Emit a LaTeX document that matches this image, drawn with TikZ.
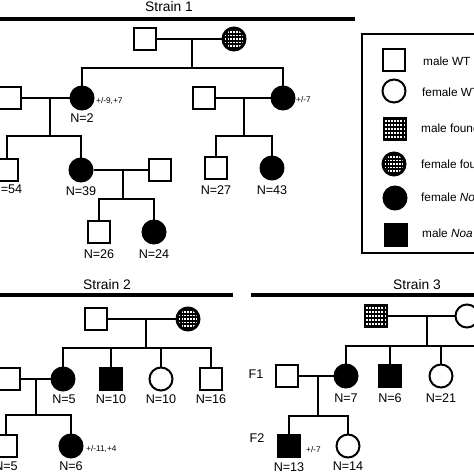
\documentclass[tikz,border=0pt]{standalone}
\usepackage{fontspec}
\setmainfont{Liberation Sans}
\begin{document}
\begin{tikzpicture}[x=1pt,y=-1pt,
  ln/.style={line width=1.9pt},
  bar/.style={line width=3.2pt},
  ind/.style={draw, line width=2pt, fill=white, inner sep=0pt},
  msq/.style={ind, rectangle, minimum size=22.5pt},
  fci/.style={ind, circle, minimum size=23pt},
  aff/.style={fill=black},
  mfound/.style={msq, fill=black, path picture={\begin{scope}[shift={(path picture bounding box.center)}]\foreach \i in {-3,...,3}{\foreach \j in {-2,...,2}{\fill[white] (\i*3.1-0.8,\j*4-0.6) rectangle ++(1.6,1.2);}}\end{scope}}},
  ffound/.style={fci, fill=black, path picture={\begin{scope}[shift={(path picture bounding box.center)}]\clip (0,0) circle (9.5);\foreach \i in {-4,...,4}{\foreach \j in {-3,...,3}{\fill[white] (\i*2.9-0.7,\j*3.5-0.6) rectangle ++(1.4,1.2);}}\end{scope}}},
  nlab/.style={font=\fontsize{12.6}{14}\selectfont, inner sep=0pt},
  small/.style={font=\fontsize{8.3}{10}\selectfont, inner sep=0pt, anchor=west},
  ttl/.style={font=\fontsize{13.8}{16}\selectfont, inner sep=0pt},
  leg/.style={font=\fontsize{11.8}{14}\selectfont, inner sep=0pt, anchor=west},
]
\useasboundingbox (0,0) rectangle (474,474);
\clip (0,0) rectangle (474,474);

% ---------- Strain 1 ----------
\node[ttl] (t1) at (169,7) {Strain 1};
\coordinate (b1a) at (-10,19); \coordinate (b1b) at (355,19);
\draw[bar] (b1a) -- (b1b);

\node[msq] (p1m) at (145,39) {};
\node[ffound] (p1f) at (234,39) {};
\draw[ln] (p1m) -- (p1f);
\coordinate (j1) at (192,39); \coordinate (s1) at (192,68);
\draw[ln] (j1) -- (s1);
\node[fci,aff] (d1) at (82,98) {};
\node[fci,aff] (d2) at (283,98) {};
\draw[ln] (d1) |- (s1) -| (d2);
\node[small] (g1) at (96,101) {+/-9,+7};
\node[nlab] (n2) at (82,118) {N=2};
\node[small] (g2) at (296,100) {+/-7};

\node[msq] (h1) at (10,98) {};
\draw[ln] (h1) -- (d1);
\coordinate (j2) at (50,98); \coordinate (s2) at (50,136);
\draw[ln] (j2) -- (s2);
\node[msq] (c54) at (7,170) {};
\node[fci,aff] (c39) at (81,170) {};
\draw[ln] (c54) |- (s2) -| (c39);
\node[nlab] (n54) at (7,189) {N=54};
\node[nlab] (n39) at (81,191) {N=39};

\node[msq] (h2) at (160,170) {};
\draw[ln] (c39) -- (h2);
\coordinate (j3) at (123,170); \coordinate (s3) at (123,199);
\draw[ln] (j3) -- (s3);
\node[msq] (c26) at (99,232) {};
\node[fci,aff] (c24) at (154,232) {};
\draw[ln] (c26) |- (s3) -| (c24);
\node[nlab] (n26) at (99,254) {N=26};
\node[nlab] (n24) at (154,254) {N=24};

\node[msq] (h3) at (204,98) {};
\draw[ln] (h3) -- (d2);
\coordinate (j4) at (244,98); \coordinate (s4) at (244,136);
\draw[ln] (j4) -- (s4);
\node[msq] (c27) at (216,168) {};
\node[fci,aff] (c43) at (272,168) {};
\draw[ln] (c27) |- (s4) -| (c43);
\node[nlab] (n27) at (216,190) {N=27};
\node[nlab] (n43) at (272,190) {N=43};

% ---------- Legend ----------
\draw[line width=1.2pt] (362,34) rectangle (495,253);
\node[msq] (l1) at (394,60) {};
\node[leg] (lt1) at (423,61) {male WT};
\node[fci] (l2) at (394,91) {};
\node[leg] (lt2) at (422,92) {female WT};
\node[mfound] (l3) at (395,129) {};
\node[leg] (lt3) at (421,128) {male founder};
\node[ffound] (l4) at (394,164) {};
\node[leg] (lt4) at (421,164) {female founder};
\node[fci,aff] (l5) at (395,198) {};
\node[leg] (lt5) at (421,197) {female \textit{Noa}};
\node[msq,aff] (l6) at (396,235) {};
\node[leg] (lt6) at (422,233) {male \textit{Noa}};

% ---------- Strain 2 ----------
\node[ttl] (t2) at (107,285) {Strain 2};
\coordinate (b2a) at (-10,295); \coordinate (b2b) at (233,295);
\draw[bar] (b2a) -- (b2b);
\node[msq] (p2m) at (96,319) {};
\node[ffound] (p2f) at (188,319) {};
\draw[ln] (p2m) -- (p2f);
\coordinate (j5) at (146,319); \coordinate (s5) at (146,348);
\draw[ln] (j5) -- (s5);
\node[fci,aff] (k1) at (63,379) {};
\node[msq,aff] (k2) at (111,379) {};
\node[fci] (k3) at (161,379) {};
\node[msq] (k4) at (211,379) {};
\draw[ln] (k1) |- (s5) -| (k4);
\draw[ln] (k2) -- (k2 |- s5);
\draw[ln] (k3) -- (k3 |- s5);
\node[nlab] (nk1) at (64,399) {N=5};
\node[nlab] (nk2) at (111,399) {N=10};
\node[nlab] (nk3) at (161,399) {N=10};
\node[nlab] (nk4) at (211,399) {N=16};

\node[msq] (h4) at (9,379) {};
\draw[ln] (h4) -- (k1);
\coordinate (j6) at (36,379); \coordinate (s6) at (36,415);
\draw[ln] (j6) -- (s6);
\node[msq] (m1) at (6,446) {};
\node[fci,aff] (m2) at (71,446) {};
\draw[ln] (m1) |- (s6) -| (m2);
\node[nlab] (nm1) at (6,466) {N=5};
\node[nlab] (nm2) at (71,466) {N=6};
\node[small] (g3) at (86,449) {+/-11,+4};

% ---------- Strain 3 ----------
\node[ttl] (t3) at (417,285) {Strain 3};
\coordinate (b3a) at (251,295); \coordinate (b3b) at (480,295);
\draw[bar] (b3a) -- (b3b);
\node[mfound] (p3m) at (376,316) {};
\node[fci] (p3f) at (467,316) {};
\draw[ln] (p3m) -- (p3f);
\coordinate (j7) at (427,316); \coordinate (s7) at (427,346);
\coordinate (s7r) at (480,346);
\draw[ln] (j7) -- (s7);
\node[fci,aff] (q1) at (346,376) {};
\node[msq,aff] (q2) at (390,376) {};
\node[fci] (q3) at (441,376) {};
\draw[ln] (q1) |- (s7) -- (s7r);
\draw[ln] (q2) -- (q2 |- s7);
\draw[ln] (q3) -- (q3 |- s7);
\node[nlab] (nq1) at (346,398) {N=7};
\node[nlab] (nq2) at (390,398) {N=6};
\node[nlab] (nq3) at (441,398) {N=21};

\node[nlab] (f1) at (256,374) {F1};
\node[msq] (h5) at (287,376) {};
\draw[ln] (h5) -- (q1);
\coordinate (j8) at (318,376); \coordinate (s8) at (318,416);
\draw[ln] (j8) -- (s8);
\node[msq,aff] (r1) at (289,446) {};
\node[fci] (r2) at (348,446) {};
\draw[ln] (r1) |- (s8) -| (r2);
\node[nlab] (f2) at (257,438) {F2};
\node[small] (g4) at (306,450) {+/-7};
\node[nlab] (nr1) at (289,467) {N=13};
\node[nlab] (nr2) at (348,466) {N=14};
\end{tikzpicture}
\end{document}
